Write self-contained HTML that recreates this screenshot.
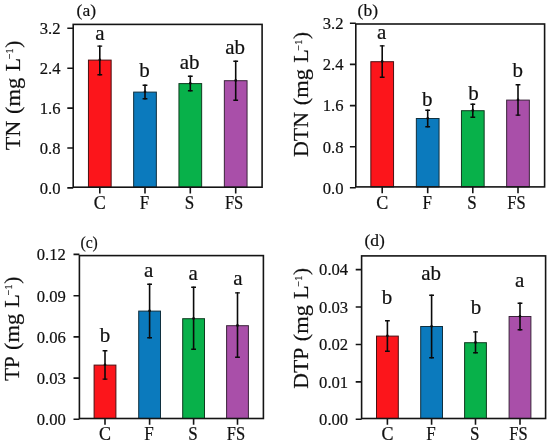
<!DOCTYPE html>
<html lang="en">
<head>
<meta charset="utf-8">
<title>Figure</title>
<style>
html,body{margin:0;padding:0;background:#fff;}
body{width:550px;height:446px;overflow:hidden;}
text{stroke:#101010;stroke-width:0.2px;stroke-linejoin:round;}
</style>
</head>
<body>
<svg width="550" height="446" viewBox="0 0 550 446" style="display:block" font-family="'Liberation Serif', serif" fill="#101010" stroke="#101010" stroke-width="0">
<rect width="550" height="446" fill="#ffffff"/>
<g>
<rect x="88.45" y="60.10" width="22.70" height="127.10" fill="#fc151b" stroke="#4a1012" stroke-width="1"/>
<rect x="133.65" y="92.10" width="22.70" height="95.10" fill="#0b7abd" stroke="#10303f" stroke-width="1"/>
<rect x="178.95" y="83.60" width="22.70" height="103.60" fill="#08b14a" stroke="#103a20" stroke-width="1"/>
<rect x="224.35" y="80.70" width="22.70" height="106.50" fill="#a94fa9" stroke="#3a243a" stroke-width="1"/>
<path d="M99.80 45.40V75.40" fill="none" stroke="#0a0a0a" stroke-width="1.6"/>
<circle cx="99.80" cy="59.80" r="1.3" fill="#0a0a0a"/>
<path d="M97.40 46.10h4.80M97.40 74.70h4.80" fill="none" stroke="#0a0a0a" stroke-width="1.4"/>
<path d="M145.00 84.60V99.40" fill="none" stroke="#0a0a0a" stroke-width="1.6"/>
<circle cx="145.00" cy="91.80" r="1.3" fill="#0a0a0a"/>
<path d="M142.60 85.30h4.80M142.60 98.70h4.80" fill="none" stroke="#0a0a0a" stroke-width="1.4"/>
<path d="M190.30 75.60V91.40" fill="none" stroke="#0a0a0a" stroke-width="1.6"/>
<circle cx="190.30" cy="83.30" r="1.3" fill="#0a0a0a"/>
<path d="M187.90 76.30h4.80M187.90 90.70h4.80" fill="none" stroke="#0a0a0a" stroke-width="1.4"/>
<path d="M235.70 60.60V101.00" fill="none" stroke="#0a0a0a" stroke-width="1.6"/>
<circle cx="235.70" cy="80.40" r="1.3" fill="#0a0a0a"/>
<path d="M233.30 61.30h4.80M233.30 100.30h4.80" fill="none" stroke="#0a0a0a" stroke-width="1.4"/>
<rect x="73.20" y="24.40" width="188.90" height="162.80" fill="none" stroke="#141414" stroke-width="1.60"/>
<path d="M73.20 187.90h-5.90M73.20 148.00h-5.90M73.20 108.10h-5.90M73.20 68.20h-5.90M73.20 28.30h-5.90M99.80 187.20v6.30M145.00 187.20v6.30M190.30 187.20v6.30M235.70 187.20v6.30" fill="none" stroke="#141414" stroke-width="1.60"/>
<text transform="translate(60.50 193.70) scale(0.98 1.02)" font-size="17.0" text-anchor="end">0.0</text>
<text transform="translate(60.50 153.80) scale(0.98 1.02)" font-size="17.0" text-anchor="end">0.8</text>
<text transform="translate(60.50 113.90) scale(0.98 1.02)" font-size="17.0" text-anchor="end">1.6</text>
<text transform="translate(60.50 74.00) scale(0.98 1.02)" font-size="17.0" text-anchor="end">2.4</text>
<text transform="translate(60.50 34.10) scale(0.98 1.02)" font-size="17.0" text-anchor="end">3.2</text>
<text transform="translate(99.80 209.10) scale(1.06 1.13)" font-size="17.0" text-anchor="middle">C</text>
<text transform="translate(144.50 209.10) scale(1.00 1.13)" font-size="17.0" text-anchor="middle">F</text>
<text transform="translate(189.60 209.10) scale(1.00 1.13)" font-size="17.0" text-anchor="middle">S</text>
<text transform="translate(234.10 209.10) scale(0.97 1.13)" font-size="17.0" text-anchor="middle">FS</text>
<text transform="translate(100.00 40.00) scale(1.050 1)" font-size="20.0" text-anchor="middle">a</text>
<text transform="translate(144.60 77.30) scale(1.050 1)" font-size="20.0" text-anchor="middle">b</text>
<text transform="translate(189.60 68.90) scale(1.050 1)" font-size="20.0" text-anchor="middle">ab</text>
<text transform="translate(235.20 54.30) scale(1.050 1)" font-size="20.0" text-anchor="middle">ab</text>
<text transform="translate(76.60 16.40) scale(1.000 1)" font-size="17.5">(a)</text>
<g transform="translate(19.50 149.90) rotate(-90)"><text transform="translate(-0.40 0.00) scale(1.061 1)" font-size="21.0">TN</text> <text transform="translate(36.01 0.00) scale(1.071 1)" font-size="21.0">(mg</text> <text transform="translate(78.36 0.00) scale(1.058 1)" font-size="21.0">L</text> <text transform="translate(90.79 -6.60) scale(0.968 1)" font-size="10.5">−1</text> <text transform="translate(102.23 0.00) scale(1.001 1)" font-size="21.0">)</text></g>
</g>
<g>
<rect x="370.85" y="61.70" width="22.70" height="125.20" fill="#fc151b" stroke="#4a1012" stroke-width="1"/>
<rect x="416.35" y="118.50" width="22.70" height="68.40" fill="#0b7abd" stroke="#10303f" stroke-width="1"/>
<rect x="461.45" y="110.70" width="22.70" height="76.20" fill="#08b14a" stroke="#103a20" stroke-width="1"/>
<rect x="506.65" y="100.10" width="22.70" height="86.80" fill="#a94fa9" stroke="#3a243a" stroke-width="1"/>
<path d="M382.20 45.20V78.00" fill="none" stroke="#0a0a0a" stroke-width="1.6"/>
<circle cx="382.20" cy="61.40" r="1.3" fill="#0a0a0a"/>
<path d="M379.80 45.90h4.80M379.80 77.30h4.80" fill="none" stroke="#0a0a0a" stroke-width="1.4"/>
<path d="M427.70 109.60V127.40" fill="none" stroke="#0a0a0a" stroke-width="1.6"/>
<circle cx="427.70" cy="118.20" r="1.3" fill="#0a0a0a"/>
<path d="M425.30 110.30h4.80M425.30 126.70h4.80" fill="none" stroke="#0a0a0a" stroke-width="1.4"/>
<path d="M472.80 103.60V118.00" fill="none" stroke="#0a0a0a" stroke-width="1.6"/>
<circle cx="472.80" cy="110.40" r="1.3" fill="#0a0a0a"/>
<path d="M470.40 104.30h4.80M470.40 117.30h4.80" fill="none" stroke="#0a0a0a" stroke-width="1.4"/>
<path d="M518.00 84.00V115.80" fill="none" stroke="#0a0a0a" stroke-width="1.6"/>
<circle cx="518.00" cy="99.80" r="1.3" fill="#0a0a0a"/>
<path d="M515.60 84.70h4.80M515.60 115.10h4.80" fill="none" stroke="#0a0a0a" stroke-width="1.4"/>
<rect x="355.80" y="24.00" width="188.80" height="162.90" fill="none" stroke="#141414" stroke-width="1.60"/>
<path d="M355.80 187.80h-5.90M355.80 146.70h-5.90M355.80 105.60h-5.90M355.80 64.40h-5.90M355.80 23.30h-5.90M382.20 186.90v6.30M427.70 186.90v6.30M472.80 186.90v6.30M518.00 186.90v6.30" fill="none" stroke="#141414" stroke-width="1.60"/>
<text transform="translate(343.60 193.60) scale(0.98 1.02)" font-size="17.0" text-anchor="end">0.0</text>
<text transform="translate(343.60 152.50) scale(0.98 1.02)" font-size="17.0" text-anchor="end">0.8</text>
<text transform="translate(343.60 111.40) scale(0.98 1.02)" font-size="17.0" text-anchor="end">1.6</text>
<text transform="translate(343.60 70.20) scale(0.98 1.02)" font-size="17.0" text-anchor="end">2.4</text>
<text transform="translate(343.60 29.10) scale(0.98 1.02)" font-size="17.0" text-anchor="end">3.2</text>
<text transform="translate(382.20 209.10) scale(1.06 1.13)" font-size="17.0" text-anchor="middle">C</text>
<text transform="translate(427.20 209.10) scale(1.00 1.13)" font-size="17.0" text-anchor="middle">F</text>
<text transform="translate(472.10 209.10) scale(1.00 1.13)" font-size="17.0" text-anchor="middle">S</text>
<text transform="translate(516.40 209.10) scale(0.97 1.13)" font-size="17.0" text-anchor="middle">FS</text>
<text transform="translate(381.60 39.00) scale(1.050 1)" font-size="20.0" text-anchor="middle">a</text>
<text transform="translate(427.20 106.30) scale(1.050 1)" font-size="20.0" text-anchor="middle">b</text>
<text transform="translate(473.40 99.90) scale(1.050 1)" font-size="20.0" text-anchor="middle">b</text>
<text transform="translate(517.80 77.30) scale(1.050 1)" font-size="20.0" text-anchor="middle">b</text>
<text transform="translate(357.60 15.60) scale(1.000 1)" font-size="17.5">(b)</text>
<g transform="translate(308.20 156.40) rotate(-90)"><text transform="translate(-0.64 0.00) scale(1.046 1)" font-size="21.0">DTN</text> <text transform="translate(51.21 0.00) scale(1.071 1)" font-size="21.0">(mg</text> <text transform="translate(93.56 0.00) scale(1.058 1)" font-size="21.0">L</text> <text transform="translate(105.99 -6.60) scale(0.968 1)" font-size="10.5">−1</text> <text transform="translate(117.43 0.00) scale(1.001 1)" font-size="21.0">)</text></g>
</g>
<g>
<rect x="94.10" y="365.10" width="21.80" height="53.40" fill="#fc151b" stroke="#4a1012" stroke-width="1"/>
<rect x="138.70" y="311.10" width="21.80" height="107.40" fill="#0b7abd" stroke="#10303f" stroke-width="1"/>
<rect x="182.70" y="318.70" width="21.80" height="99.80" fill="#08b14a" stroke="#103a20" stroke-width="1"/>
<rect x="226.60" y="325.70" width="21.80" height="92.80" fill="#a94fa9" stroke="#3a243a" stroke-width="1"/>
<path d="M105.00 350.00V379.80" fill="none" stroke="#0a0a0a" stroke-width="1.6"/>
<circle cx="105.00" cy="364.80" r="1.3" fill="#0a0a0a"/>
<path d="M102.60 350.70h4.80M102.60 379.10h4.80" fill="none" stroke="#0a0a0a" stroke-width="1.4"/>
<path d="M149.60 283.60V338.40" fill="none" stroke="#0a0a0a" stroke-width="1.6"/>
<circle cx="149.60" cy="310.80" r="1.3" fill="#0a0a0a"/>
<path d="M147.20 284.30h4.80M147.20 337.70h4.80" fill="none" stroke="#0a0a0a" stroke-width="1.4"/>
<path d="M193.60 286.60V350.00" fill="none" stroke="#0a0a0a" stroke-width="1.6"/>
<circle cx="193.60" cy="318.40" r="1.3" fill="#0a0a0a"/>
<path d="M191.20 287.30h4.80M191.20 349.30h4.80" fill="none" stroke="#0a0a0a" stroke-width="1.4"/>
<path d="M237.50 292.20V358.00" fill="none" stroke="#0a0a0a" stroke-width="1.6"/>
<circle cx="237.50" cy="325.40" r="1.3" fill="#0a0a0a"/>
<path d="M235.10 292.90h4.80M235.10 357.30h4.80" fill="none" stroke="#0a0a0a" stroke-width="1.4"/>
<rect x="79.40" y="255.60" width="184.00" height="162.90" fill="none" stroke="#141414" stroke-width="1.60"/>
<path d="M79.40 419.30h-5.90M79.40 378.10h-5.90M79.40 336.90h-5.90M79.40 295.70h-5.90M79.40 254.40h-5.90M105.00 418.50v6.30M149.60 418.50v6.30M193.60 418.50v6.30M237.50 418.50v6.30" fill="none" stroke="#141414" stroke-width="1.60"/>
<text transform="translate(65.90 425.10) scale(0.98 1.02)" font-size="17.0" text-anchor="end">0.00</text>
<text transform="translate(65.90 383.90) scale(0.98 1.02)" font-size="17.0" text-anchor="end">0.03</text>
<text transform="translate(65.90 342.70) scale(0.98 1.02)" font-size="17.0" text-anchor="end">0.06</text>
<text transform="translate(65.90 301.50) scale(0.98 1.02)" font-size="17.0" text-anchor="end">0.09</text>
<text transform="translate(65.90 260.20) scale(0.98 1.02)" font-size="17.0" text-anchor="end">0.12</text>
<text transform="translate(105.00 440.40) scale(1.06 1.13)" font-size="17.0" text-anchor="middle">C</text>
<text transform="translate(149.10 440.40) scale(1.00 1.13)" font-size="17.0" text-anchor="middle">F</text>
<text transform="translate(192.90 440.40) scale(1.00 1.13)" font-size="17.0" text-anchor="middle">S</text>
<text transform="translate(235.90 440.40) scale(0.97 1.13)" font-size="17.0" text-anchor="middle">FS</text>
<text transform="translate(105.00 341.90) scale(1.050 1)" font-size="20.0" text-anchor="middle">b</text>
<text transform="translate(148.60 277.00) scale(1.050 1)" font-size="20.0" text-anchor="middle">a</text>
<text transform="translate(193.20 279.60) scale(1.050 1)" font-size="20.0" text-anchor="middle">a</text>
<text transform="translate(238.00 285.40) scale(1.050 1)" font-size="20.0" text-anchor="middle">a</text>
<text transform="translate(80.40 248.00) scale(0.900 1)" font-size="17.5">(c)</text>
<g transform="translate(18.90 380.40) rotate(-90)"><text transform="translate(-0.38 0.00) scale(0.996 1)" font-size="21.0">TP</text> <text transform="translate(30.41 0.00) scale(1.071 1)" font-size="21.0">(mg</text> <text transform="translate(72.76 0.00) scale(1.058 1)" font-size="21.0">L</text> <text transform="translate(85.19 -6.60) scale(0.968 1)" font-size="10.5">−1</text> <text transform="translate(96.63 0.00) scale(1.001 1)" font-size="21.0">)</text></g>
</g>
<g>
<rect x="376.50" y="336.10" width="21.80" height="82.40" fill="#fc151b" stroke="#4a1012" stroke-width="1"/>
<rect x="420.70" y="326.50" width="21.80" height="92.00" fill="#0b7abd" stroke="#10303f" stroke-width="1"/>
<rect x="464.60" y="342.70" width="21.80" height="75.80" fill="#08b14a" stroke="#103a20" stroke-width="1"/>
<rect x="509.10" y="316.50" width="21.80" height="102.00" fill="#a94fa9" stroke="#3a243a" stroke-width="1"/>
<path d="M387.40 320.00V352.00" fill="none" stroke="#0a0a0a" stroke-width="1.6"/>
<circle cx="387.40" cy="335.80" r="1.3" fill="#0a0a0a"/>
<path d="M385.00 320.70h4.80M385.00 351.30h4.80" fill="none" stroke="#0a0a0a" stroke-width="1.4"/>
<path d="M431.60 294.60V358.40" fill="none" stroke="#0a0a0a" stroke-width="1.6"/>
<circle cx="431.60" cy="326.20" r="1.3" fill="#0a0a0a"/>
<path d="M429.20 295.30h4.80M429.20 357.70h4.80" fill="none" stroke="#0a0a0a" stroke-width="1.4"/>
<path d="M475.50 331.20V353.40" fill="none" stroke="#0a0a0a" stroke-width="1.6"/>
<circle cx="475.50" cy="342.40" r="1.3" fill="#0a0a0a"/>
<path d="M473.10 331.90h4.80M473.10 352.70h4.80" fill="none" stroke="#0a0a0a" stroke-width="1.4"/>
<path d="M520.00 302.60V330.40" fill="none" stroke="#0a0a0a" stroke-width="1.6"/>
<circle cx="520.00" cy="316.20" r="1.3" fill="#0a0a0a"/>
<path d="M517.60 303.30h4.80M517.60 329.70h4.80" fill="none" stroke="#0a0a0a" stroke-width="1.4"/>
<rect x="361.60" y="255.90" width="184.00" height="162.60" fill="none" stroke="#141414" stroke-width="1.60"/>
<path d="M361.60 419.30h-5.90M361.60 381.90h-5.90M361.60 344.50h-5.90M361.60 307.00h-5.90M361.60 269.60h-5.90M387.40 418.50v6.30M431.60 418.50v6.30M475.50 418.50v6.30M520.00 418.50v6.30" fill="none" stroke="#141414" stroke-width="1.60"/>
<text transform="translate(348.20 425.10) scale(0.98 1.02)" font-size="17.0" text-anchor="end">0.00</text>
<text transform="translate(348.20 387.70) scale(0.98 1.02)" font-size="17.0" text-anchor="end">0.01</text>
<text transform="translate(348.20 350.30) scale(0.98 1.02)" font-size="17.0" text-anchor="end">0.02</text>
<text transform="translate(348.20 312.80) scale(0.98 1.02)" font-size="17.0" text-anchor="end">0.03</text>
<text transform="translate(348.20 275.40) scale(0.98 1.02)" font-size="17.0" text-anchor="end">0.04</text>
<text transform="translate(387.40 440.40) scale(1.06 1.13)" font-size="17.0" text-anchor="middle">C</text>
<text transform="translate(431.10 440.40) scale(1.00 1.13)" font-size="17.0" text-anchor="middle">F</text>
<text transform="translate(474.80 440.40) scale(1.00 1.13)" font-size="17.0" text-anchor="middle">S</text>
<text transform="translate(518.40 440.40) scale(0.97 1.13)" font-size="17.0" text-anchor="middle">FS</text>
<text transform="translate(387.00 304.30) scale(1.050 1)" font-size="20.0" text-anchor="middle">b</text>
<text transform="translate(431.20 279.90) scale(1.050 1)" font-size="20.0" text-anchor="middle">ab</text>
<text transform="translate(476.00 314.30) scale(1.050 1)" font-size="20.0" text-anchor="middle">b</text>
<text transform="translate(519.60 286.60) scale(1.050 1)" font-size="20.0" text-anchor="middle">a</text>
<text transform="translate(364.50 246.10) scale(1.000 1)" font-size="17.5">(d)</text>
<g transform="translate(308.10 388.10) rotate(-90)"><text transform="translate(-0.63 0.00) scale(1.036 1)" font-size="21.0">DTP</text> <text transform="translate(46.81 0.00) scale(1.071 1)" font-size="21.0">(mg</text> <text transform="translate(89.16 0.00) scale(1.058 1)" font-size="21.0">L</text> <text transform="translate(101.59 -6.60) scale(0.968 1)" font-size="10.5">−1</text> <text transform="translate(113.03 0.00) scale(1.001 1)" font-size="21.0">)</text></g>
</g>
</svg>
</body>
</html>
